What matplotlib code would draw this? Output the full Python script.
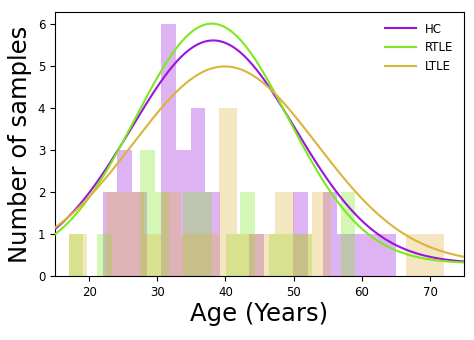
import numpy as np
import matplotlib
matplotlib.use('Agg')
import matplotlib.pyplot as plt

# histogram bins: each group has 20 equal bins between its own min and max age
hc_range = (22.0, 65.0)
rtle_range = (17.0, 59.0)
ltle_range = (17.0, 72.0)

hc_counts = [2, 3, 2, 0, 6, 3, 4, 2, 0, 0, 1, 0, 0, 2, 0, 2, 1, 1, 1, 1]
rtle_counts = [1, 0, 1, 0, 0, 3, 2, 0, 2, 2, 0, 1, 2, 0, 1, 1, 1, 0, 0, 2]
ltle_counts = [1, 0, 2, 2, 1, 2, 1, 1, 4, 1, 1, 2, 1, 2, 0, 0, 0, 0, 1, 1]

# fitted gaussian curves: amplitude, mean, sd, baseline
hc_fit = (5.32, 38.2, 12.0, 0.3)
rtle_fit = (5.72, 38.0, 11.2, 0.3)
ltle_fit = (4.70, 39.9, 13.5, 0.3)

groups = ['HC', 'RTLE', 'LTLE']
colors = ['#9a14dc', '#7ee81e', '#dcb43c']


def gauss(x, amp, mu, sd, base):
    return amp * np.exp(-(x - mu) ** 2 / (2 * sd ** 2)) + base


fig = plt.figure(figsize=(4.74, 3.4), dpi=100)
ax = fig.add_axes([0.116, 0.188, 0.863, 0.777])

ages = np.linspace(15, 75, 400)
for name, rng, counts, fit, col in zip(groups,
                                       [hc_range, rtle_range, ltle_range],
                                       [hc_counts, rtle_counts, ltle_counts],
                                       [hc_fit, rtle_fit, ltle_fit],
                                       colors):
    edges = np.linspace(rng[0], rng[1], len(counts) + 1)
    ax.bar(edges[:-1], counts, width=np.diff(edges), align='edge',
           color=col, alpha=0.32, linewidth=0, zorder=1)

for name, fit, col in zip(groups, [hc_fit, rtle_fit, ltle_fit], colors):
    ax.plot(ages, gauss(ages, *fit), color=col, lw=1.5, label=name, zorder=3)

ax.set_xlim(15, 75)
ax.set_ylim(0, 6.3)
ax.set_xticks([20, 30, 40, 50, 60, 70])
ax.set_yticks(range(7))
ax.tick_params(labelsize=8.5, length=3.5)
ax.set_xlabel('Age (Years)', fontsize=17.5, labelpad=2)
ax.set_ylabel('Number of samples', fontsize=17.5, labelpad=4)
ax.legend(loc='upper right', frameon=False, fontsize=8.5, handlelength=2.6,
          borderaxespad=0.5)

fig.savefig('out.png', dpi=100)
